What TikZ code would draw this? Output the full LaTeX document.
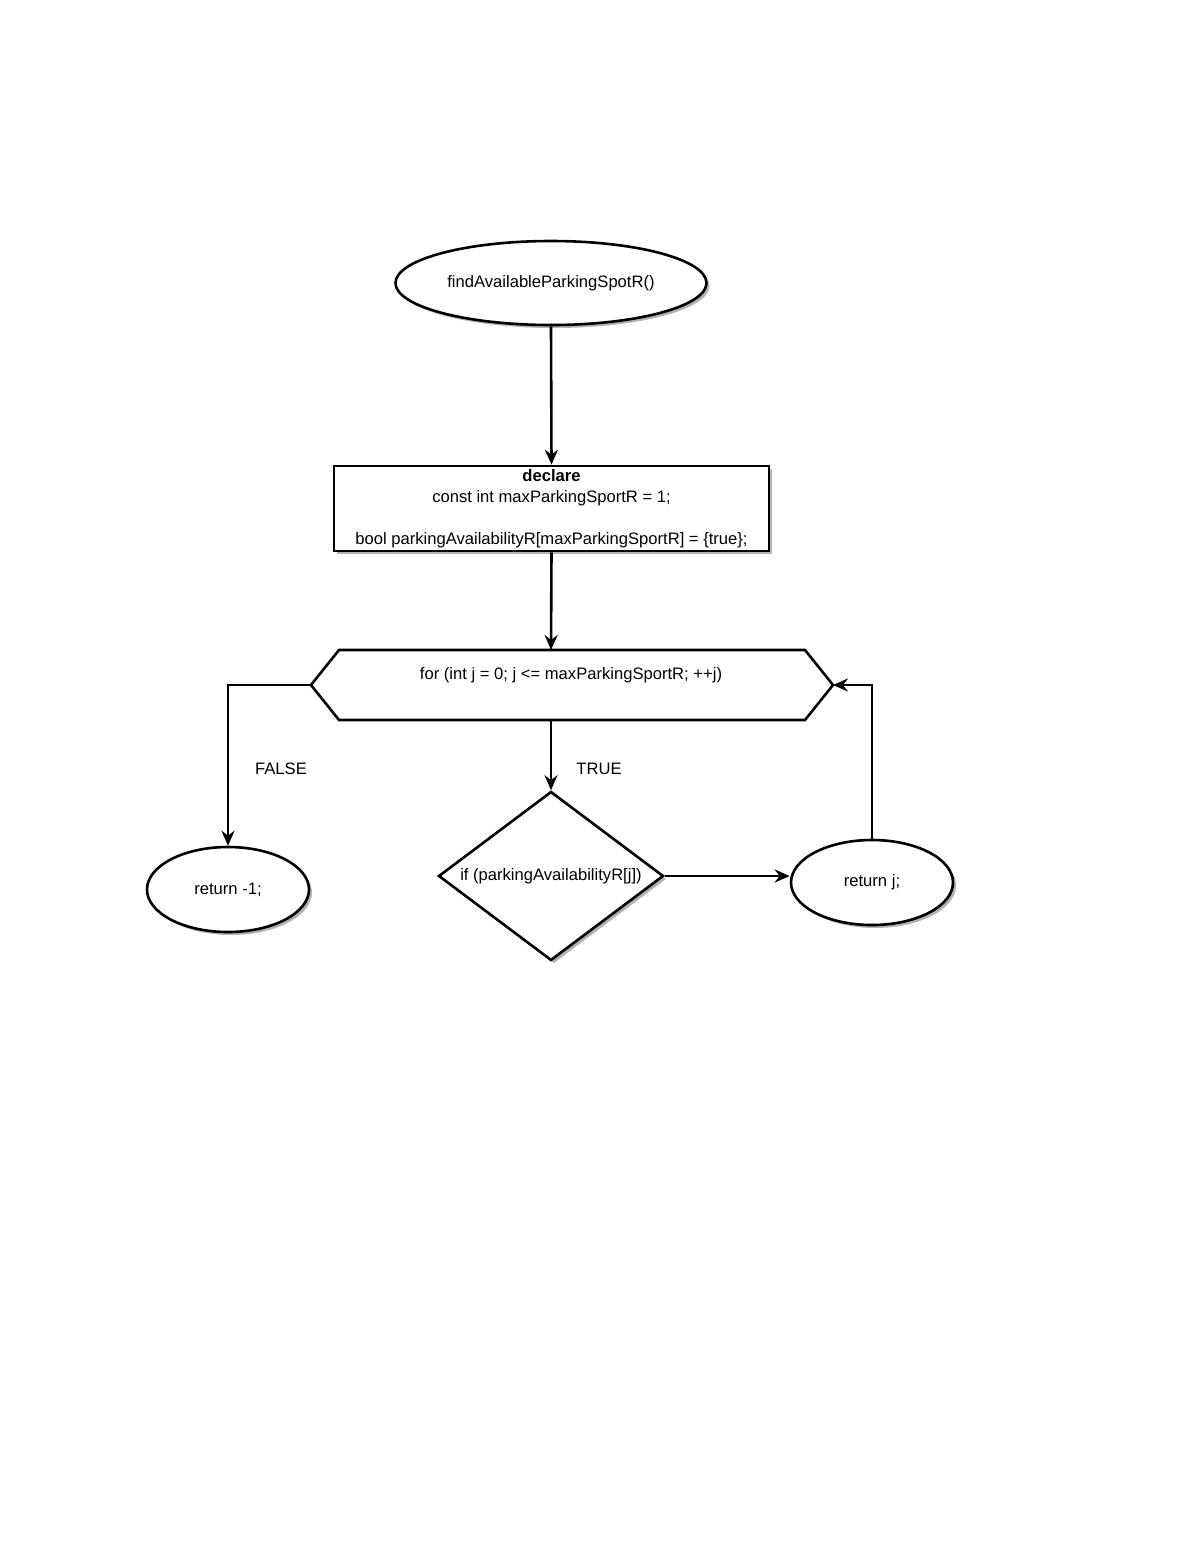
\documentclass[tikz,border=0pt]{standalone}
\usepackage{fontspec}
\setmainfont{Liberation Sans}
\usetikzlibrary{shapes.geometric,arrows.meta,shadows}
\begin{document}
\begin{tikzpicture}[x=0.5pt,y=-0.5pt, line width=1.3pt,
  font=\fontsize{8.3}{10.5}\selectfont,
  shd/.style={drop shadow={shadow xshift=1.5pt, shadow yshift=-1.5pt, opacity=0.3, fill=black}},
  term/.style={ellipse, draw, fill=white, inner sep=0pt, shd},
  arr/.style={-{Stealth[length=7.5pt,width=6.5pt,inset=2.5pt]}},
  lbl/.style={inner sep=0pt}]
\useasboundingbox[fill=white] (0,0) rectangle (1200,1555);

\node[term, minimum width=155.5pt, minimum height=42pt] (start) at (551,283) {findAvailableParkingSpotR()};

\node[draw, fill=white, shd, minimum width=217.5pt, minimum height=42.5pt, align=center, inner sep=0pt] (decl) at (551.5,508.5)
  {\textbf{declare}\\const int maxParkingSportR = 1;\\[10.5pt]bool parkingAvailabilityR[maxParkingSportR] = \{true\};};

\coordinate (hexL) at (311,685);
\coordinate (hexR) at (833,685);
\coordinate (hexT) at (551,650);
\coordinate (hexB) at (551,720);
\draw[fill=white] (hexL) -- (339,650) -- (805,650) -- (hexR) -- (805,720) -- (339,720) -- cycle;
\node[lbl] (loop) at (571,675) {for (int j = 0; j <= maxParkingSportR; ++j)};

\node[diamond, draw, fill=white, shd, aspect=1.33, inner sep=0pt, minimum width=112.5pt, minimum height=84.5pt] (cond) at (551,876) {if (parkingAvailabilityR[j])};

\node[term, minimum width=81pt, minimum height=42.5pt] (retj) at (872,882.5) {return j;};
\node[term, minimum width=81pt, minimum height=42.5pt] (retm) at (228,889.5) {return -1;};

\node[lbl] (false) at (281,769) {FALSE};
\node[lbl] (true) at (599,769) {TRUE};

\draw[arr] (start.south) -- (decl.north);
\draw[arr] (decl.south) -- (hexT);
\draw[arr] (hexB) -- (cond.north);
\draw[arr] (cond.east) -- (cond.east -| retj.west);
\draw[arr] (retj.north) |- (hexR);
\draw[arr] (hexL) -| (retm.north);
\end{tikzpicture}
\end{document}
